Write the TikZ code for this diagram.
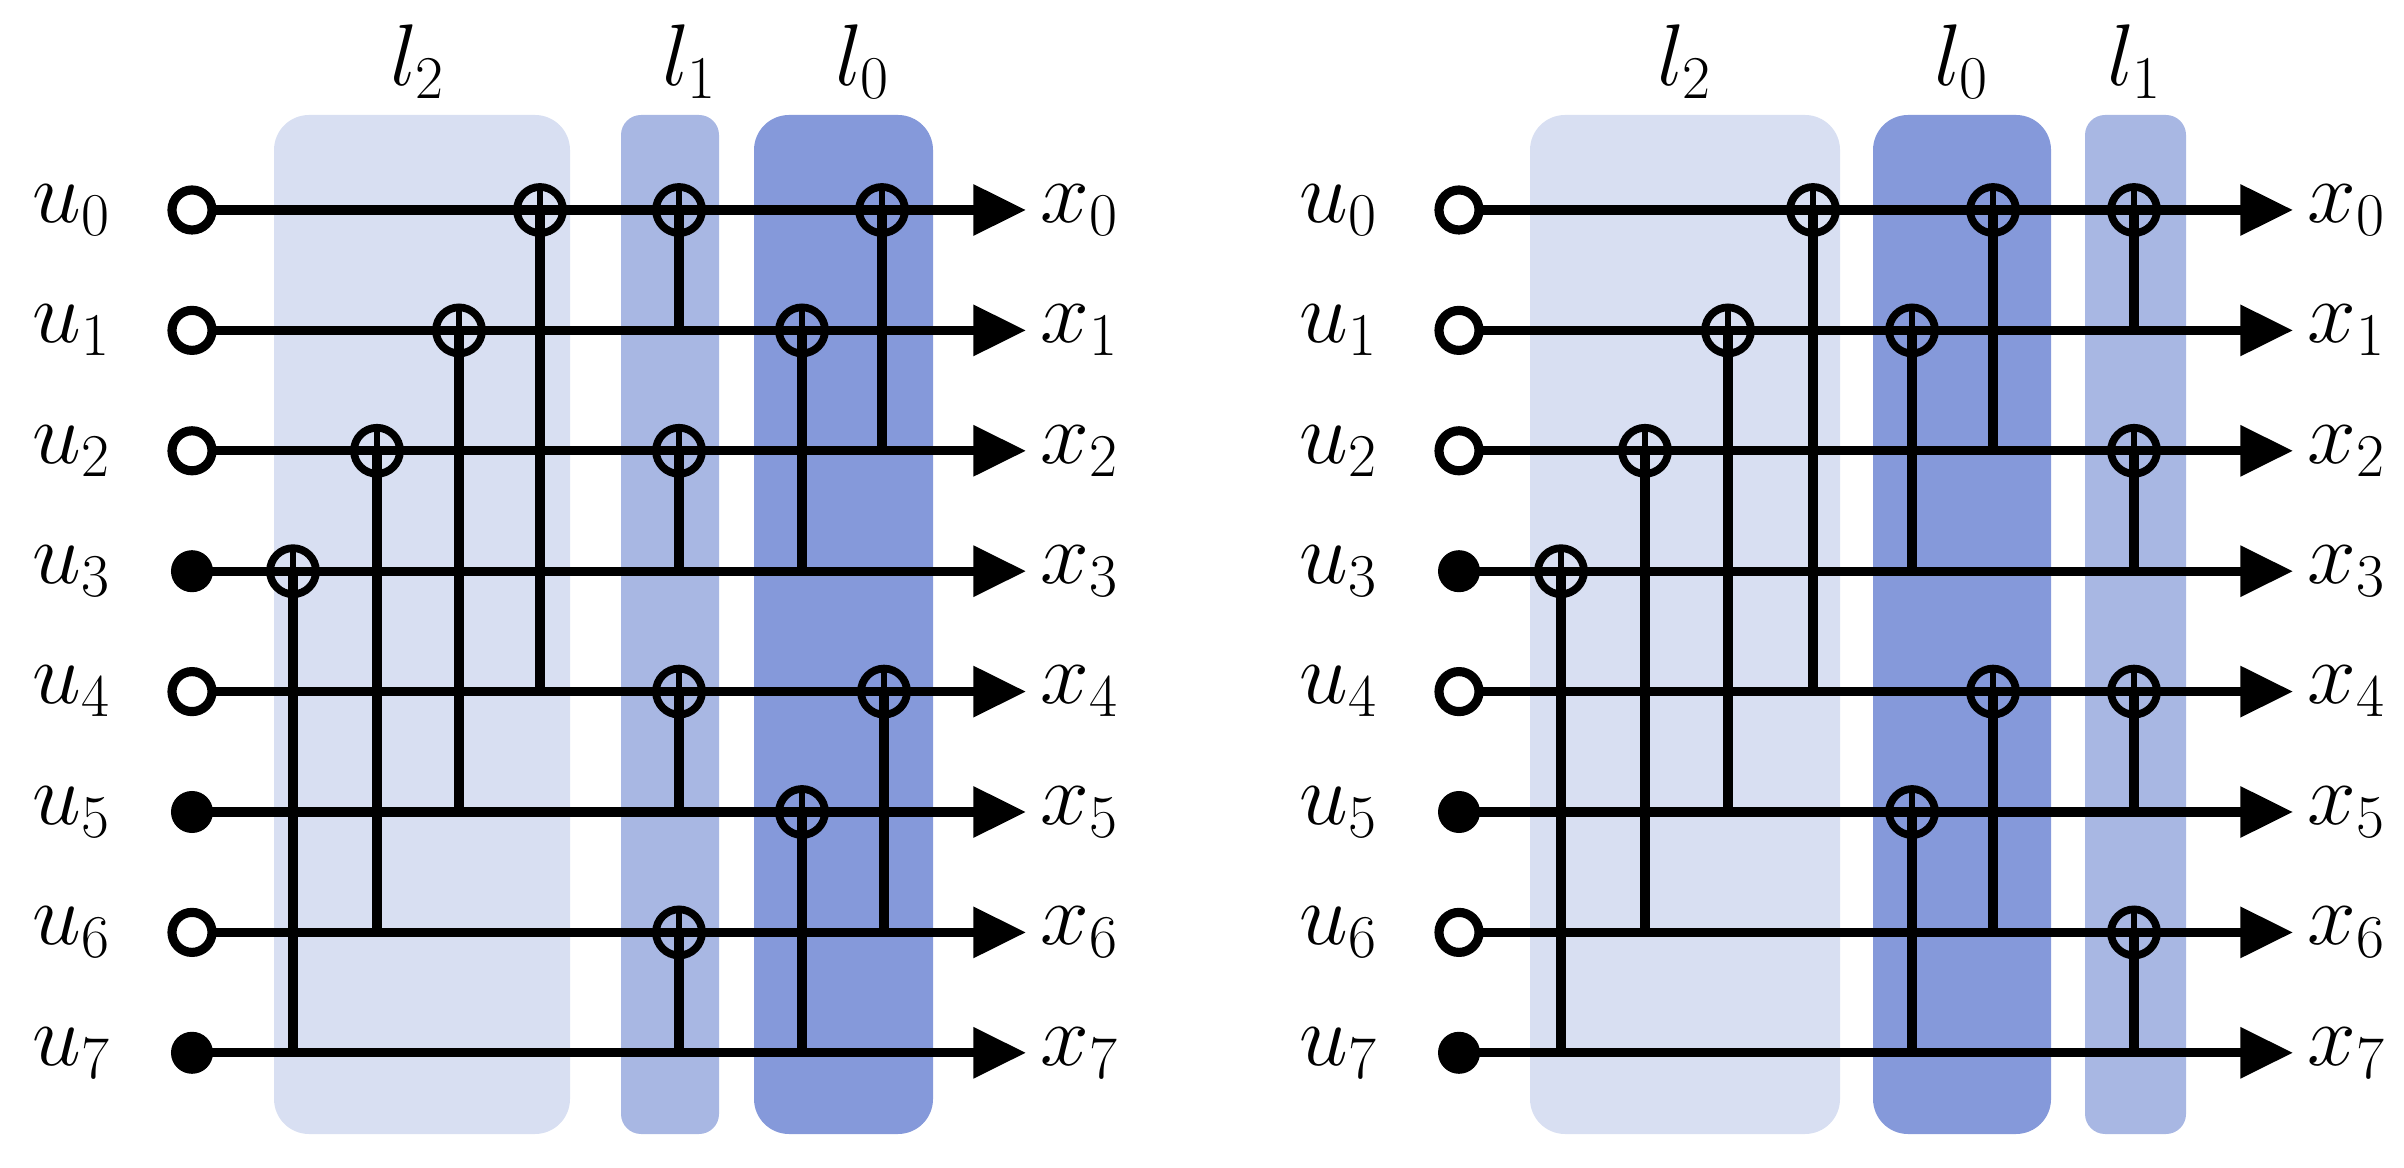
\documentclass[tikz,border=0pt]{standalone}
\usetikzlibrary{arrows.meta}
\definecolor{cA}{HTML}{D8DFF2}
\definecolor{cB}{HTML}{A8B7E3}
\definecolor{cC}{HTML}{8599DA}
\tikzset{
  wire/.style={line width=2.6pt,-{Triangle[length=15pt,width=14pt]}},
  ctrl/.style={line width=2.6pt},
  tgt/.style={circle,draw,line width=2.2pt,minimum size=0.46cm,inner sep=0pt,fill=none,
    path picture={\draw[line width=1.6pt](path picture bounding box.north)--(path picture bounding box.south)
      (path picture bounding box.west)--(path picture bounding box.east);}},
  openin/.style={circle,draw,line width=2.6pt,fill=white,minimum size=0.4cm,inner sep=0pt},
  fullin/.style={circle,fill=black,minimum size=0.42cm,inner sep=0pt},
  lab/.style={font=\fontsize{23}{26}\selectfont},
  band/.style={rounded corners=0.35cm},
}
\begin{document}
\begin{tikzpicture}[x=0.01cm,y=-0.01cm]
\useasboundingbox (0,0) rectangle (2404,1168);
% bands
\fill[cA,band] (274,115) rectangle (570,1134);
\fill[cB,band,rounded corners=0.2cm] (621,115) rectangle (719,1134);
\fill[cC,band] (754,115) rectangle (933,1134);
\fill[cA,band] (1530,115) rectangle (1840,1134);
\fill[cC,band] (1873,115) rectangle (2051,1134);
\fill[cB,band,rounded corners=0.2cm] (2085,115) rectangle (2186,1134);
\node[lab] (L2a) at (418,62) {$l_2$};
\node[lab] (L1a) at (690,62) {$l_1$};
\node[lab] (L0a) at (863,62) {$l_0$};
\node[lab] (L2b) at (1685,62) {$l_2$};
\node[lab] (L0b) at (1962,62) {$l_0$};
\node[lab] (L1b) at (2135,62) {$l_1$};
% panels
\foreach \o/\p in {0/a,1267/b}{
  \foreach \i in {0,...,7}{
    \pgfmathsetmacro\yy{210+120.4*\i}
    \coordinate (w\p\i) at (\o+192,\yy);
    \coordinate (e\p\i) at (\o+1026,\yy);
    \draw[wire] (w\p\i) -- (e\p\i);
    \node[lab,anchor=center] (u\p\i) at (\o+72,\yy) {$u_{\i}$};
    \node[lab,anchor=west] (x\p\i) at (\o+1028,\yy) {$x_{\i}$};
  }
  \foreach \i in {0,1,2,4,6}{\node[openin] (in\p\i) at (w\p\i) {};}
  \foreach \i in {3,5,7}{\node[fullin] (in\p\i) at (w\p\i) {};}
}
% gates: x, target row, control row
\foreach \x/\t/\c [count=\k] in {
  293/3/7, 377/2/6, 459/1/5, 540/0/4,
  679/0/1, 679/2/3, 679/4/5, 679/6/7,
  802/1/3, 802/5/7, 882/0/2, 884/4/6,
  1561/3/7, 1645/2/6, 1728/1/5, 1813/0/4,
  1912/1/3, 1912/5/7, 1993/0/2, 1993/4/6,
  2134/0/1, 2134/2/3, 2134/4/5, 2134/6/7}{
  \pgfmathsetmacro\yt{210+120.4*\t}
  \pgfmathsetmacro\yc{210+120.4*\c}
  \node[tgt] (g\k) at (\x,\yt) {};
  \coordinate (c\k) at (\x,\yc);
  \draw[ctrl] (g\k.center) -- (c\k);
}
\end{tikzpicture}
\end{document}
